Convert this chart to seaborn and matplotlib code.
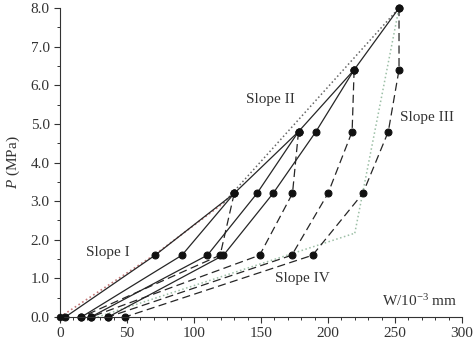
import matplotlib
matplotlib.use("Agg")
import matplotlib.pyplot as plt
import seaborn as sns
import pandas as pd
from matplotlib.ticker import MultipleLocator, FormatStrFormatter

# ---- data (W in 1e-3 mm, P in MPa) ----
pressure_up = [0.0, 1.6, 3.2, 4.8, 6.4, 8.0]

c1_load_w = [4, 71, 130]
c1_unload_w = [130, 119.5, 16]
c2_load_w = [16, 91, 130, 178]
c2_unload_w = [178, 173.5, 149, 23]
c3_load_w = [23, 110, 147, 178, 219.5]
c3_unload_w = [219.5, 218, 200, 173, 36]
c4_load_w = [36, 122, 159, 191, 219.5, 253]
c4_unload_w = [253, 253, 245, 226, 188.5, 48.5]

origin_w = [0]
origin_p = [0]

slope1_w = [0, 71, 122]
slope1_p = [0, 1.62, 2.95]
slope2_w = [122, 253]
slope2_p = [2.95, 8.0]
slope4_w = [28, 220]
slope4_p = [0, 2.17]
slope3_w = [220, 253]
slope3_p = [2.17, 8.0]

labels = ["Slope I", "Slope II", "Slope III", "Slope IV"]

# ---- style ----
sns.set_style("ticks")
plt.rcParams["font.family"] = ["Liberation Serif", "DejaVu Serif"]
plt.rcParams["mathtext.fontset"] = "custom"
plt.rcParams["mathtext.rm"] = "Liberation Serif"
plt.rcParams["mathtext.it"] = "Liberation Serif:italic"

fig = plt.figure(figsize=(4.74, 3.47), dpi=100)
ax = fig.add_axes([60 / 474, 30 / 347, 402 / 474, 309 / 347])

line_col = "#262626"

def curve(w, p, ls, color=line_col, lw=0.9, marker="o", dashes=None):
    df = pd.DataFrame({"W": w, "P": p})
    kw = dict(data=df, x="W", y="P", sort=False, estimator=None, ax=ax,
              color=color, lw=lw, linestyle=ls)
    if marker:
        kw.update(marker=marker, markersize=5, markeredgecolor="#111111",
                  markerfacecolor="#111111")
    sns.lineplot(**kw)
    line = ax.lines[-1]
    line.set_clip_on(False)
    if dashes is not None:
        line.set_dashes(dashes)
    return line

# reference slope lines (dotted)
curve(slope1_w, slope1_p, ":", color="#c47878", lw=1.2, marker=None)
curve(slope2_w, slope2_p, ":", color="#666666", lw=1.1, marker=None)
curve(slope4_w, slope4_p, ":", color="#9cbfa6", lw=1.1, marker=None)
curve(slope3_w, slope3_p, ":", color="#9cbfa6", lw=1.1, marker=None)

# loading (solid) / unloading (dashed)
loads = [c1_load_w, c2_load_w, c3_load_w, c4_load_w]
unloads = [c1_unload_w, c2_unload_w, c3_unload_w, c4_unload_w]
for w in loads:
    curve(w, pressure_up[:len(w)], "-")
for w in unloads:
    p = pressure_up[:len(w)][::-1]
    curve(w, p, "--", dashes=(6.5, 3.5))

sns.scatterplot(x=origin_w, y=origin_p, ax=ax, color="#111111", s=25,
                edgecolor="#111111", clip_on=False, zorder=5)

# axes
ax.set_xlim(0, 300)
ax.set_ylim(0, 8)
ax.xaxis.set_major_locator(MultipleLocator(50))
ax.xaxis.set_minor_locator(MultipleLocator(10))
ax.yaxis.set_major_locator(MultipleLocator(1))
ax.yaxis.set_minor_locator(MultipleLocator(0.5))
ax.yaxis.set_major_formatter(FormatStrFormatter("%.1f"))
ax.tick_params(which="major", length=4, width=0.8, labelsize=11, colors="#333333")
ax.tick_params(which="minor", length=2.5, width=0.7, colors="#333333")
sns.despine(ax=ax)
for s in ("left", "bottom"):
    ax.spines[s].set_color("#333333")
    ax.spines[s].set_linewidth(0.8)
ax.set_xlabel("")
ax.set_ylabel("$P$ (MPa)", fontsize=11, color="#333333", labelpad=6)

# annotations
txt = dict(fontsize=11, color="#333333", ha="center", va="center")
ax.text(36, 1.66, labels[0], **txt)
ax.text(157, 5.64, labels[1], **txt)
ax.text(274, 5.17, labels[2], **txt)
ax.text(181, 1.0, labels[3], **txt)
ax.text(268, 0.4, "W/10$^{-3}$ mm", **txt)

fig.savefig("out.png", dpi=100)
